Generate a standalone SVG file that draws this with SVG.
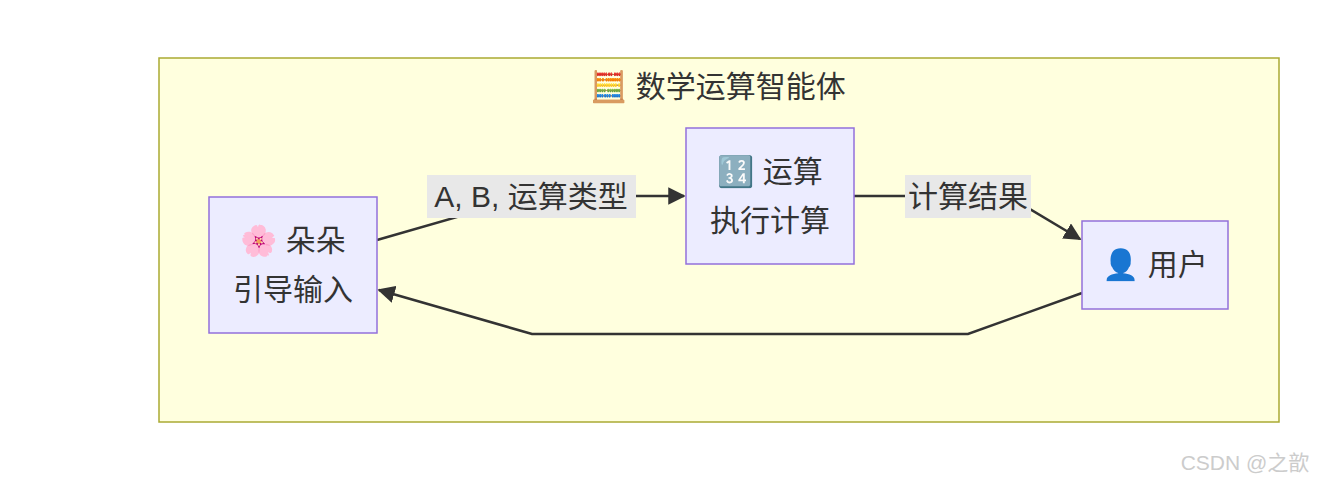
<svg xmlns="http://www.w3.org/2000/svg" width="1322" height="482" viewBox="0 0 1322 482">
<style>
.n{fill:#ececff;stroke:#9370db;stroke-width:1.5}
.t{font-family:"Liberation Sans","Noto Sans CJK SC",sans-serif;font-size:30px;fill:#333;text-anchor:middle}
.e{fill:none;stroke:#333;stroke-width:2.5}
.lb{fill:#e8e8e8}
</style>
<defs><marker id="a" viewBox="0 0 10 10" refX="9" refY="5" markerWidth="7" markerHeight="7" orient="auto"><path d="M0,0L10,5L0,10z" fill="#333"/></marker></defs>
<rect width="1322" height="482" fill="#fff"/>
<g id="cluster"><rect x="159" y="58" width="1120" height="364" fill="#ffffde" stroke="#aaaa33" stroke-width="1.5"/>
<text class="t" x="718" y="97">🧮 数学运算智能体</text></g>
<g id="edges">
<path class="e" d="M377,240 L530,196 L684,196" marker-end="url(#a)"/>
<path class="e" d="M854,196 L1008,196 L1080,239" marker-end="url(#a)"/>
<path class="e" d="M1082,293 L968,334 L532,334 L379,290" marker-end="url(#a)"/>
<rect class="lb" x="427" y="175" width="209" height="43"/><text class="t" x="531" y="207">A, B, 运算类型</text>
<rect class="lb" x="905" y="175" width="126" height="43"/><text class="t" x="968" y="207">计算结果</text>
</g>
<g id="duoduo"><rect class="n" x="209" y="197" width="168" height="136"/><text class="t" x="293" y="251">🌸 朵朵</text><text class="t" x="293" y="300">引导输入</text></g>
<g id="calc"><rect class="n" x="686" y="128" width="168" height="136"/><text class="t" x="770" y="182">🔢 运算</text><text class="t" x="770" y="231">执行计算</text></g>
<g id="user"><rect class="n" x="1082" y="221" width="146" height="88"/><text class="t" x="1155" y="275">👤 用户</text></g>
<text x="1245" y="470" font-family="Liberation Sans,'Noto Sans CJK SC',sans-serif" font-size="21" fill="#ccc" text-anchor="middle">CSDN @之歆</text>
</svg>
